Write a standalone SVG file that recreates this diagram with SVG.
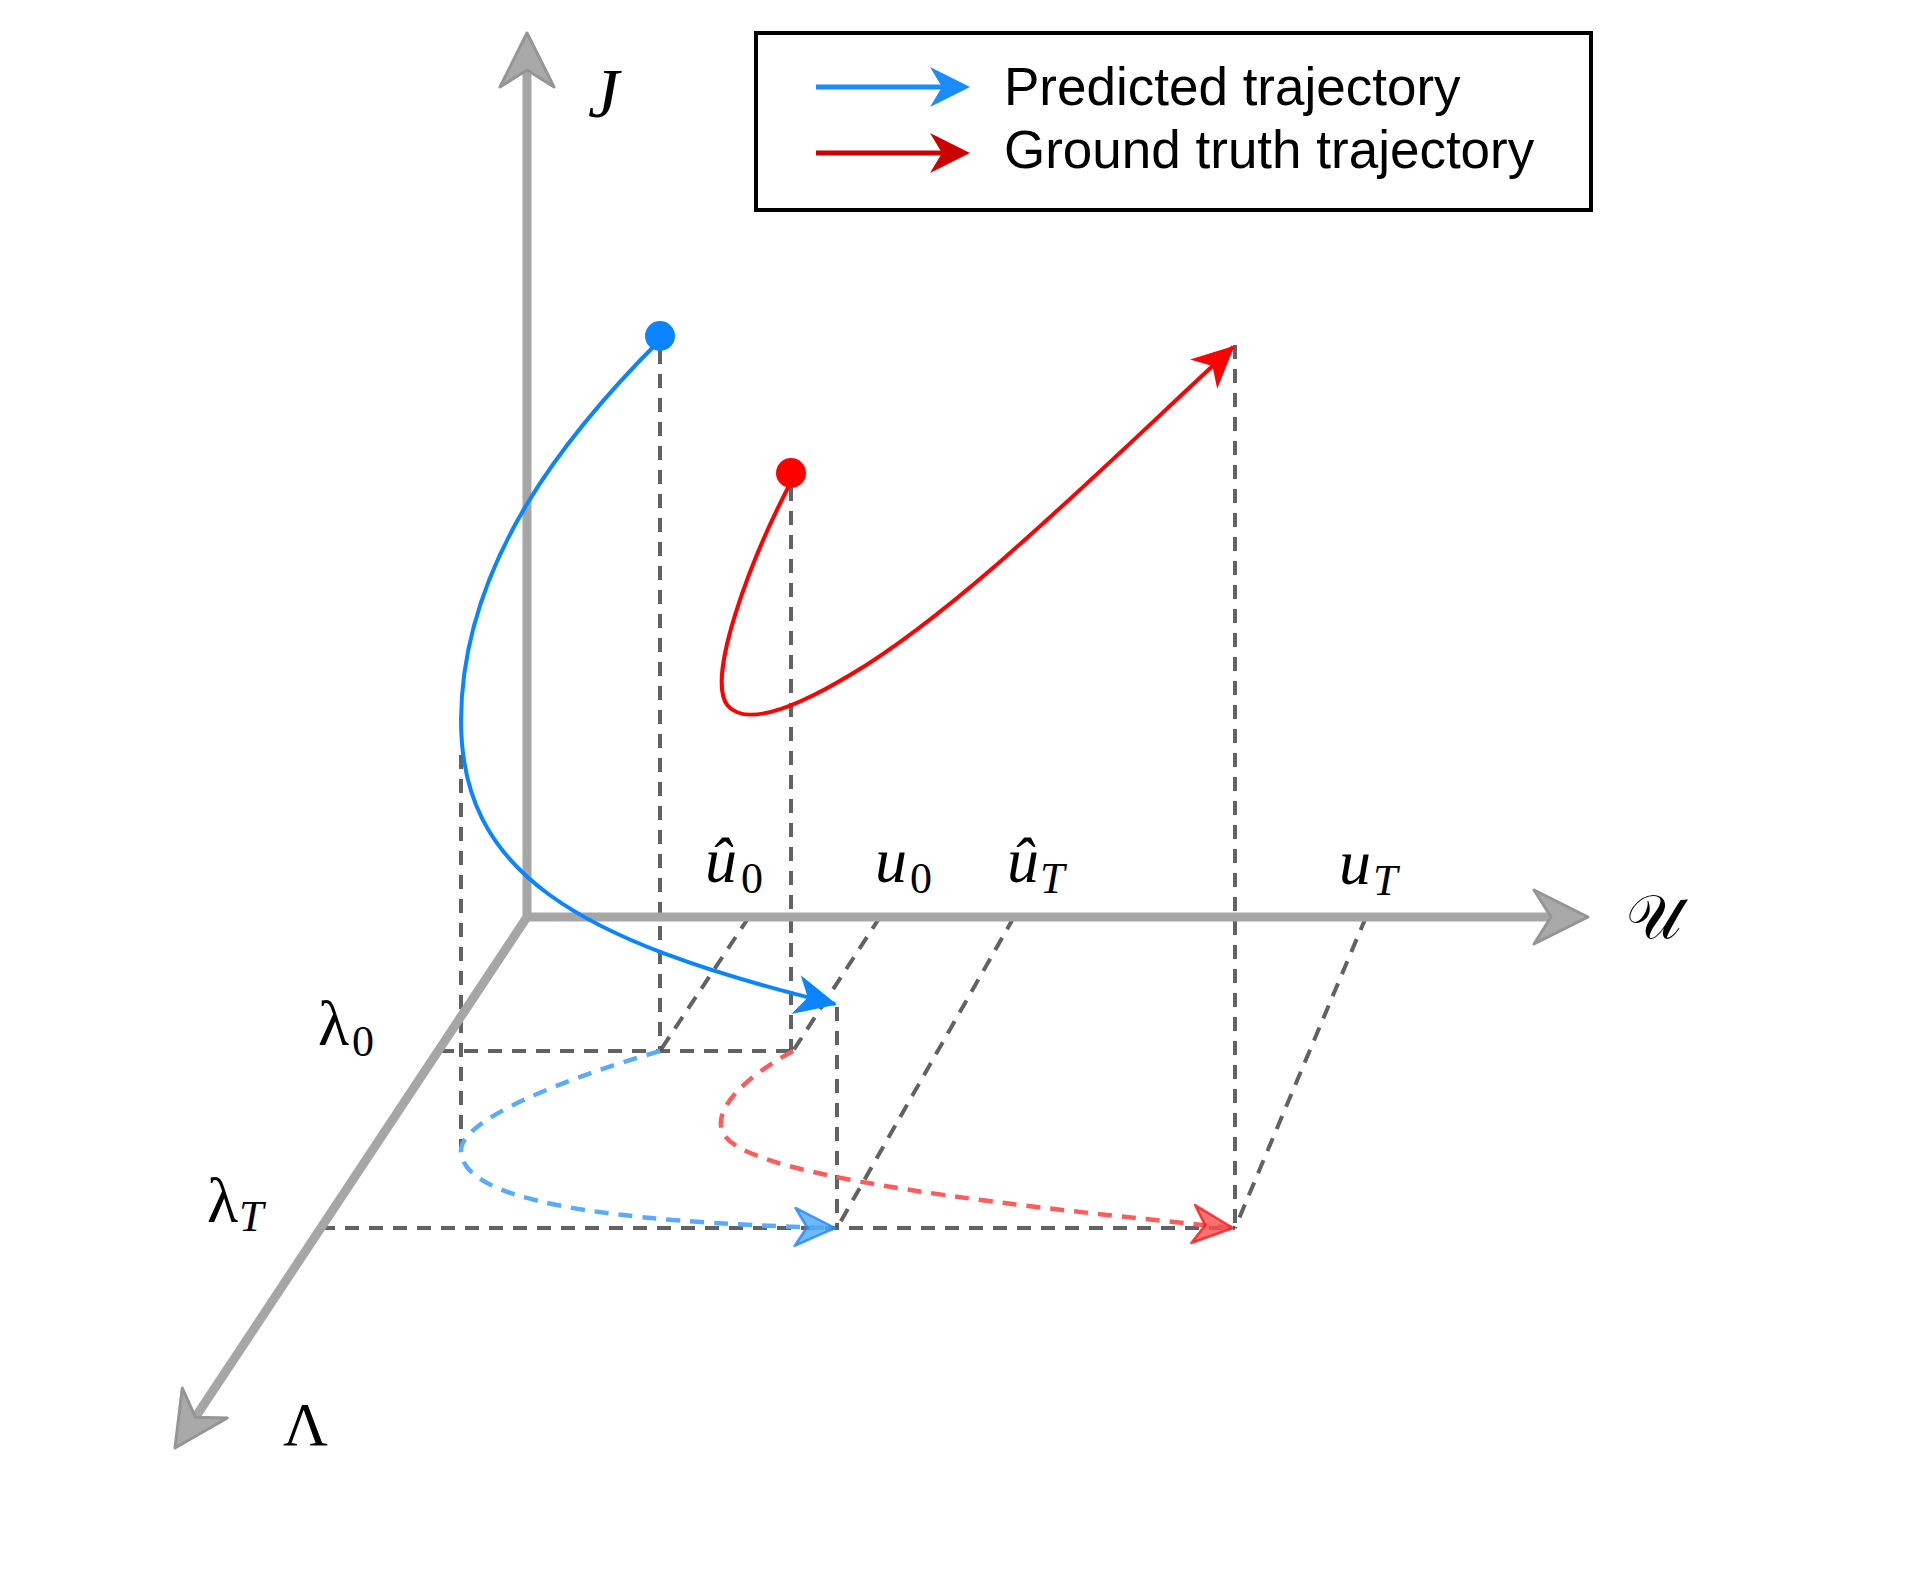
<svg xmlns="http://www.w3.org/2000/svg" width="1912" height="1584" viewBox="0 0 1912 1584">
<style>
.axis{stroke:#a6a6a6;stroke-width:9;fill:none}
.guide{stroke:#555;stroke-width:4;stroke-dasharray:14 10;fill:none;opacity:.92}
.traj{fill:none;stroke-width:4}
.dtraj{fill:none;stroke-width:4.5;stroke-dasharray:14 10}
.m{font-family:"Liberation Serif","Times New Roman",serif;font-style:italic;fill:#000;font-size:64px}
.up{font-style:normal}
.sub{font-size:44px}
.lg{font-family:"Liberation Sans",Arial,sans-serif;font-size:53px;fill:#000}
</style>
<defs>
<marker id="axh" markerUnits="userSpaceOnUse" viewBox="-60 -32 64 64" markerWidth="64" markerHeight="64" refX="-37" refY="0" orient="auto">
<path d="M0,0 L-54,-27 L-37,0 L-54,27 Z" fill="#a9a9a9" stroke="#959595" stroke-width="3" stroke-linejoin="round"/>
</marker>
<marker id="bh" markerUnits="userSpaceOnUse" viewBox="-46 -24 50 48" markerWidth="50" markerHeight="48" refX="-2" refY="0" orient="auto">
<path d="M0,0 L-42,-20 L-30,0 L-42,20 Z" fill="#0a84ff"/>
</marker>
<marker id="rh" markerUnits="userSpaceOnUse" viewBox="-46 -24 50 48" markerWidth="50" markerHeight="48" refX="-2" refY="0" orient="auto">
<path d="M0,0 L-42,-20 L-30,0 L-42,20 Z" fill="#ff0000"/>
</marker>
<marker id="dbh" markerUnits="userSpaceOnUse" viewBox="-46 -24 50 48" markerWidth="50" markerHeight="48" refX="0" refY="0" orient="auto">
<path d="M0,0 L-40,-19 L-28,0 L-40,19 Z" fill="#4da6ff" fill-opacity=".8" stroke="#1f86ff" stroke-opacity=".8" stroke-width="2.5" stroke-linejoin="round"/>
</marker>
<marker id="drh" markerUnits="userSpaceOnUse" viewBox="-46 -24 50 48" markerWidth="50" markerHeight="48" refX="0" refY="0" orient="auto">
<path d="M0,0 L-40,-19 L-28,0 L-40,19 Z" fill="#ff4d4d" fill-opacity=".8" stroke="#f01c1c" stroke-opacity=".8" stroke-width="2.5" stroke-linejoin="round"/>
</marker>
</defs>
<rect width="1912" height="1584" fill="#fff"/>

<g id="guides">
<line class="guide" x1="660" y1="350" x2="660" y2="1051"/>
<line class="guide" x1="791" y1="487" x2="791" y2="1051"/>
<line class="guide" x1="461" y1="755" x2="461" y2="1148"/>
<line class="guide" x1="837" y1="1007" x2="837" y2="1228"/>
<line class="guide" x1="1235" y1="345" x2="1235" y2="1228"/>
<line class="guide" x1="440" y1="1051" x2="793" y2="1051"/>
<line class="guide" x1="321" y1="1228" x2="1235" y2="1228"/>
<line class="guide" x1="749" y1="917" x2="660" y2="1051"/>
<line class="guide" x1="880" y1="917" x2="793" y2="1051"/>
<line class="guide" x1="1014" y1="917" x2="837" y2="1228"/>
<line class="guide" x1="1366" y1="917" x2="1235" y2="1228"/>
</g>

<g id="axes">
<line id="axis-J" class="axis" x1="527" y1="917" x2="527" y2="70" marker-end="url(#axh)"/>
<line id="axis-U" class="axis" x1="527" y1="917" x2="1551" y2="917" marker-end="url(#axh)"/>
<line id="axis-Lambda" class="axis" x1="527" y1="917" x2="195.4" y2="1417.2" marker-end="url(#axh)"/>
</g>

<g id="connectors">
<path id="pred-proj" class="dtraj" stroke="#5aabff" d="M660,1051 C560,1080 462,1120 461,1150 C460,1200 600,1222 835,1228" marker-end="url(#dbh)"/>
<path id="gt-proj" class="dtraj" stroke="#ff5c5c" d="M793,1051 C740,1080 715,1110 722,1130 C732,1172 950,1200 1233,1228" marker-end="url(#drh)"/>
<path id="pred" class="traj" stroke="#0a84ff" d="M660,340 C570,430 462,560 461,720 C461,870 570,940 835,1004" marker-end="url(#bh)"/>
<path id="gt" class="traj" stroke="#ff0000" d="M791,482 C750,560 705,680 728,706 C748,728 800,705 850,675 C960,610 1100,470 1233,347" marker-end="url(#rh)"/>
</g>

<g id="node-pred-start"><circle cx="660" cy="336" r="15" fill="#0a84ff"/></g>
<g id="node-gt-start"><circle cx="791" cy="473" r="15" fill="#ff0000"/></g>

<g id="labels">
<text class="m" x="588" y="117" style="font-size:70px">J</text>
<text class="m" x="1626" y="938" style="font-family:'DejaVu Serif','DejaVu Sans','Noto Sans',serif;font-style:normal;font-size:62px">𝒰</text>
<text class="m up" x="283" y="1445" style="font-size:62px">Λ</text>
<text class="m up" x="318" y="1045">λ</text><text class="m up sub" x="352" y="1056">0</text>
<text class="m up" x="207" y="1222">λ</text><text class="m sub" x="239" y="1231">T</text>
<text class="m" x="705" y="882">û</text><text class="m up sub" x="741" y="893">0</text>
<text class="m" x="875" y="882">u</text><text class="m up sub" x="910" y="893">0</text>
<text class="m" x="1007" y="882">û</text><text class="m sub" x="1040" y="893">T</text>
<text class="m" x="1339" y="884">u</text><text class="m sub" x="1373" y="895">T</text>
</g>

<g id="legend">
<rect x="756" y="33" width="835" height="177" fill="#fff" stroke="#000" stroke-width="4"/>
<line x1="816" y1="87" x2="944" y2="87" stroke="#1a8cff" stroke-width="5"/>
<polygon points="970,87 930,67 942,87 930,107" fill="#1a8cff"/>
<text class="lg" x="1004" y="105">Predicted trajectory</text>
<line x1="816" y1="153" x2="944" y2="153" stroke="#cc0000" stroke-width="5"/>
<polygon points="970,153 930,133 942,153 930,173" fill="#cc0000"/>
<text class="lg" x="1004" y="168">Ground truth trajectory</text>
</g>
</svg>
